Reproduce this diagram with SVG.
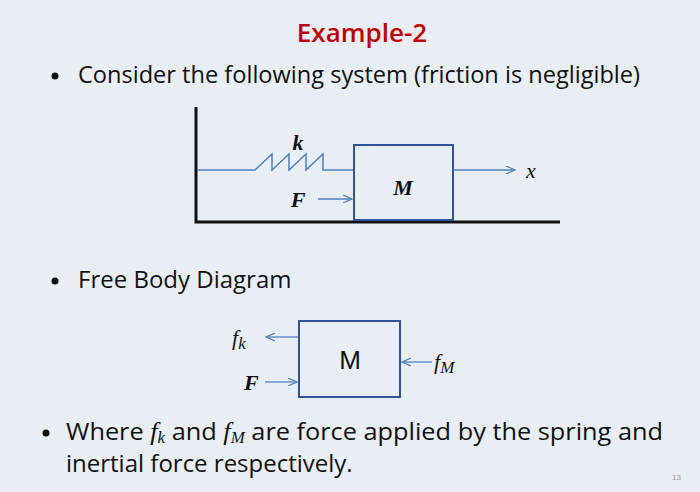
<svg xmlns="http://www.w3.org/2000/svg" width="700" height="492" viewBox="0 0 700 492">
<defs>
<marker id="ah" markerWidth="10" markerHeight="8" refX="9" refY="4" orient="auto" markerUnits="userSpaceOnUse"><path d="M0,0 L9,4 L0,8" fill="none" stroke="#4f81bd" stroke-width="1.2"/></marker>
<style>
.t{font-family:"Open Sans","Liberation Sans",sans-serif;fill:#111;font-size:24px}
.m{font-family:"Liberation Serif",serif;font-style:italic;fill:#111;font-size:22px}
.l{stroke:#4f81bd;stroke-width:1.5;fill:none}
.a{stroke:#4f81bd;stroke-width:1.3;fill:none;marker-end:url(#ah)}
</style>
</defs>
<rect width="700" height="492" fill="#e9eef5"/>
<text x="362" y="42" text-anchor="middle" style="font-family:'Open Sans','Liberation Sans',sans-serif;font-size:26px;font-weight:600;fill:#c00000">Example-2</text>
<circle cx="55" cy="76" r="3.5" fill="#111"/>
<text x="78" y="83" class="t" textLength="562" lengthAdjust="spacingAndGlyphs">Consider the following system (friction is negligible)</text>
<circle cx="55" cy="281" r="3.5" fill="#111"/>
<text x="78" y="288" class="t">Free Body Diagram</text>
<circle cx="46" cy="433" r="3.5" fill="#111"/>
<text x="66" y="440" class="t" textLength="597" lengthAdjust="spacingAndGlyphs">Where <tspan class="m" style="font-size:25px">f</tspan><tspan class="m" style="font-size:16px" dy="3">k</tspan><tspan dy="-3"> and </tspan><tspan class="m" style="font-size:25px">f</tspan><tspan class="m" style="font-size:16px" dy="3">M</tspan><tspan dy="-3"> are force applied by the spring and</tspan></text>
<text x="66" y="472" class="t">inertial force respectively.</text>
<text x="672" y="480" style="font-family:'Liberation Sans',sans-serif;font-size:8px;fill:#999">13</text>
<g id="system">
<path d="M196,107 V222 H560" stroke="#111" stroke-width="3" fill="none"/>
<path class="l" d="M198,170 H255 L272,154 V170 L289,154 V170 L306,154 V170 L323,154 V170 H353"/>
<text x="298" y="150" class="m" text-anchor="middle" font-weight="bold">k</text>
<rect id="massM" x="354" y="145" width="99" height="75" fill="none" stroke="#2f5597" stroke-width="2"/>
<text x="403" y="195" class="m" text-anchor="middle" font-weight="bold" font-size="28">M</text>
<line class="a" x1="453" y1="170" x2="515" y2="170"/>
<text x="531" y="178" class="m" text-anchor="middle">x</text>
<text x="298" y="207" class="m" text-anchor="middle" font-weight="bold">F</text>
<line class="a" x1="318" y1="199" x2="352" y2="199"/>
</g>
<g id="fbd">
<rect x="299" y="321" width="101" height="76" fill="none" stroke="#2f5597" stroke-width="2"/>
<text x="350" y="369" text-anchor="middle" style="font-family:'Liberation Sans',sans-serif;font-size:26px;fill:#111">M</text>
<text x="232" y="345" class="m" font-size="25">f<tspan font-size="17" dy="4">k</tspan></text>
<line class="a" x1="298" y1="337" x2="266" y2="337"/>
<line class="a" x1="432" y1="362" x2="402" y2="362"/>
<text x="434" y="369" class="m" font-size="25">f<tspan font-size="17" dy="4">M</tspan></text>
<text x="244" y="390" class="m" font-weight="bold">F</text>
<line class="a" x1="265" y1="382" x2="297" y2="382"/>
</g>
</svg>
